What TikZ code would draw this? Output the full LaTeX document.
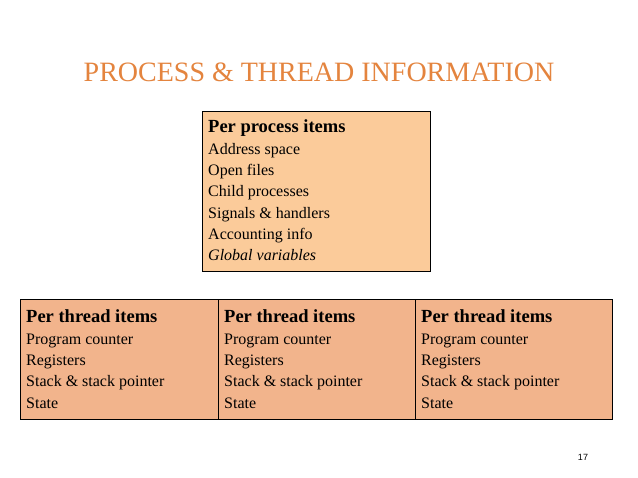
\documentclass[tikz,border=0pt]{standalone}
\usepackage{fontspec}
\setmainfont{Liberation Serif}
\newfontfamily\sfx{Liberation Sans}
\definecolor{titleor}{RGB}{228,132,62}
\definecolor{procfill}{RGB}{251,203,154}
\definecolor{thrfill}{RGB}{242,180,140}
\begin{document}
\begin{tikzpicture}[x=1pt,y=-1pt,
  boxtxt/.style={anchor=north west,inner sep=0pt,align=left,font=\fontsize{16}{21.3}\selectfont},
  hdr/.style={font=\fontsize{18.5}{21}\selectfont\bfseries}]
\useasboundingbox[fill=white] (0,0) rectangle (638,478);
\node[text=titleor,font=\fontsize{28}{30}\selectfont] (title) at (319,72) {PROCESS \& THREAD INFORMATION};
\draw[fill=procfill,line width=1pt] (202,112) rectangle (430,272);
\node[boxtxt] (proc) at (208,119) {{\fontsize{18.5}{21}\selectfont\bfseries Per process items}\\[1pt]Address space\\Open files\\Child processes\\Signals \& handlers\\Accounting info\\\textit{Global variables}};
\draw[fill=thrfill,line width=1pt] (20,300) rectangle (612,420);
\draw[line width=1pt] (218,300) -- (218,420) (415,300) -- (415,420);
\foreach \n/\x in {ta/26,tb/224,tc/421}{
  \node[boxtxt] (\n) at (\x,309) {{\fontsize{18.5}{21}\selectfont\bfseries Per thread items}\\[1pt]Program counter\\Registers\\Stack \& stack pointer\\State};
}
\node[font=\sfx\fontsize{9}{10}\selectfont] (pg) at (583,457) {17};
\end{tikzpicture}
\end{document}
